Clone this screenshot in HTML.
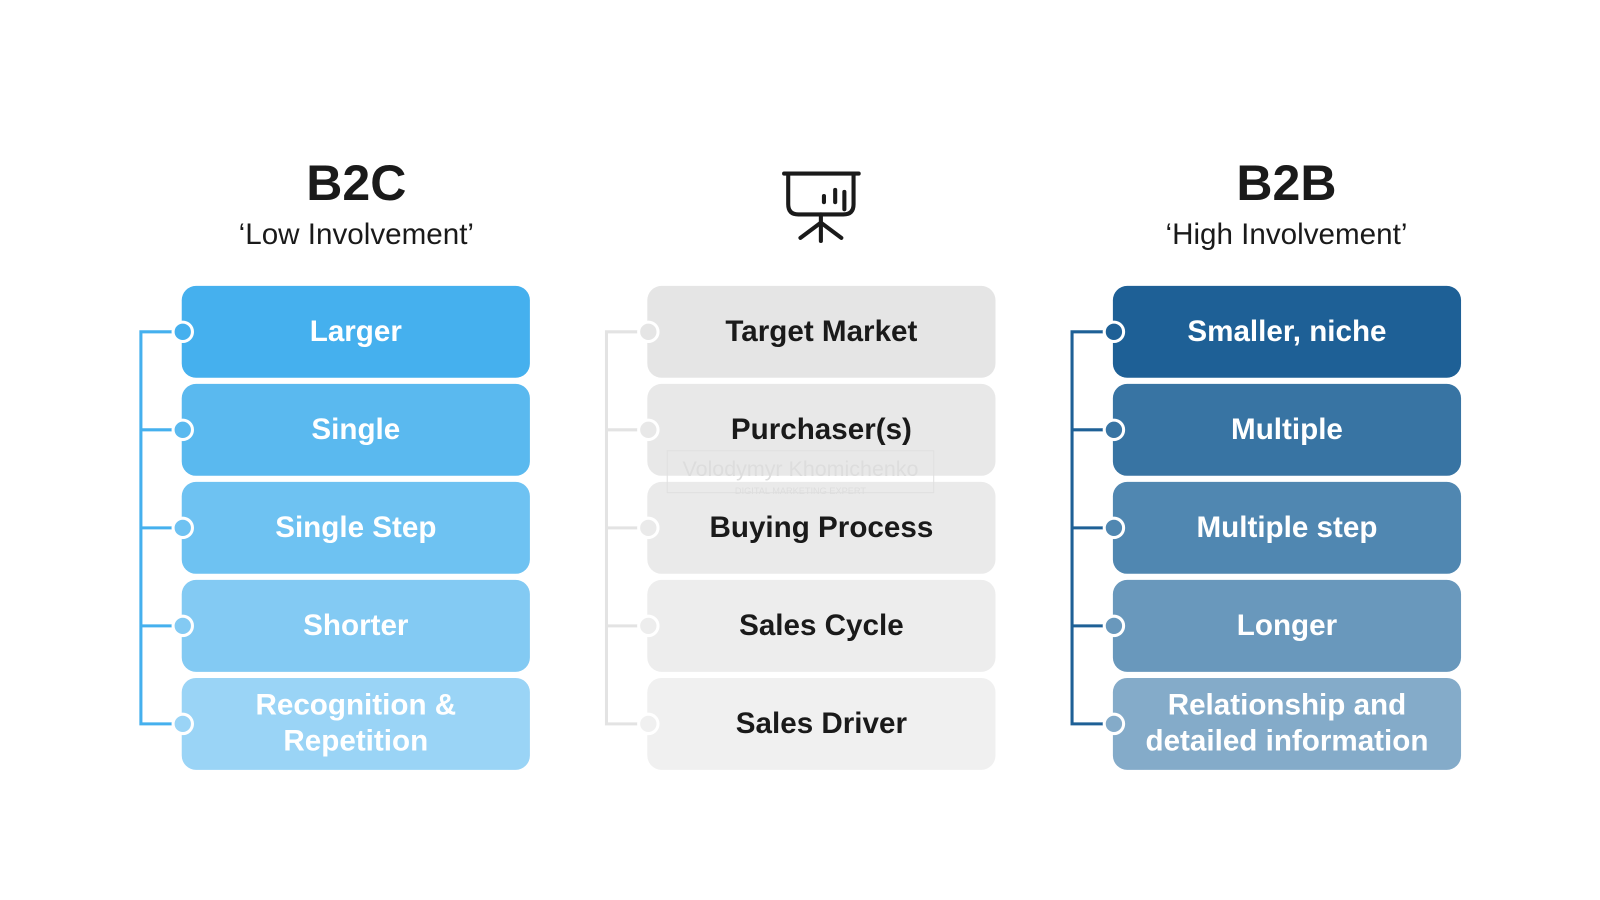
<!DOCTYPE html>
<html><head><style>
body{margin:0;width:1600px;height:900px;background:#fff;overflow:hidden}
#w{position:absolute;left:0;top:0;width:1560px;height:878px;transform:scale(1.021);transform-origin:0 0;font-family:"Liberation Sans",sans-serif}
.b{position:absolute;width:341px;height:90px;border-radius:14px;display:flex;align-items:center;justify-content:center;text-align:center;font-weight:bold;font-size:29px;line-height:35px;color:#fff}
.c{position:absolute;width:16px;height:16px;border-radius:50%;border:3px solid #fff}
.h{position:absolute;width:400px;text-align:center;color:#1a1a1a}
.t{font-size:49px;font-weight:bold;top:152px}
.s{font-size:29px;top:214px}
</style></head><body><div id="w">
<div class="h t" style="left:149px">B2C</div>
<div class="h s" style="left:149px">‘Low Involvement’</div>
<div class="h t" style="left:1060px">B2B</div>
<div class="h s" style="left:1060px">‘High Involvement’</div>
<svg style="position:absolute;left:0;top:0" width="1560" height="878">
<g fill="none" stroke="#1a1a1a" stroke-width="4" stroke-linecap="round">
<line x1="768" y1="170" x2="841" y2="170"/>
<path d="M772 170 V200 Q772 210 782 210 H826 Q836 210 836 200 V170"/>
<line x1="804" y1="210" x2="804" y2="236"/><line x1="804" y1="218" x2="784" y2="233"/><line x1="804" y1="218" x2="824" y2="233"/>
<line x1="807" y1="192" x2="807" y2="198"/><line x1="818" y1="186" x2="818" y2="198"/><line x1="827" y1="188" x2="827" y2="205"/>
</g>
<g fill="none" stroke-width="3">
<path stroke="#45b0ee" d="M170 325 H138 V709 H170 M138 421 H170 M138 517 H170 M138 613 H170"/>
<path stroke="#e3e3e3" d="M626 325 H594 V709 H626 M594 421 H626 M594 517 H626 M594 613 H626"/>
<path stroke="#1e6096" d="M1082 325 H1050 V709 H1082 M1050 421 H1082 M1050 517 H1082 M1050 613 H1082"/>
</g>
</svg>
<div class="b" style="left:178px;top:280px;background:#45b0ee">Larger</div>
<div class="b" style="left:178px;top:376px;background:#5ab9ef">Single</div>
<div class="b" style="left:178px;top:472px;background:#6ec2f2">Single Step</div>
<div class="b" style="left:178px;top:568px;background:#83caf3">Shorter</div>
<div class="b" style="left:178px;top:664px;background:#9ad4f6">Recognition &amp;<br>Repetition</div>
<div class="b" style="left:634px;top:280px;background:#e5e5e5;color:#1a1a1a">Target Market</div>
<div class="b" style="left:634px;top:376px;background:#e8e8e8;color:#1a1a1a">Purchaser(s)</div>
<div class="b" style="left:634px;top:472px;background:#eaeaea;color:#1a1a1a">Buying Process</div>
<div class="b" style="left:634px;top:568px;background:#ededed;color:#1a1a1a">Sales Cycle</div>
<div class="b" style="left:634px;top:664px;background:#f0f0f0;color:#1a1a1a">Sales Driver</div>
<div class="b" style="left:1090px;top:280px;background:#1e6096">Smaller, niche</div>
<div class="b" style="left:1090px;top:376px;background:#3874a3">Multiple</div>
<div class="b" style="left:1090px;top:472px;background:#5087b1">Multiple step</div>
<div class="b" style="left:1090px;top:568px;background:#6998bc">Longer</div>
<div class="b" style="left:1090px;top:664px;background:#84abc9">Relationship and<br>detailed information</div>
<div class="c" style="left:168px;top:314px;background:#45b0ee"></div>
<div class="c" style="left:168px;top:410px;background:#5ab9ef"></div>
<div class="c" style="left:168px;top:506px;background:#6ec2f2"></div>
<div class="c" style="left:168px;top:602px;background:#83caf3"></div>
<div class="c" style="left:168px;top:698px;background:#9ad4f6"></div>
<div class="c" style="left:624px;top:314px;background:#e5e5e5"></div>
<div class="c" style="left:624px;top:410px;background:#e8e8e8"></div>
<div class="c" style="left:624px;top:506px;background:#eaeaea"></div>
<div class="c" style="left:624px;top:602px;background:#ededed"></div>
<div class="c" style="left:624px;top:698px;background:#f0f0f0"></div>
<div class="c" style="left:1080px;top:314px;background:#1e6096"></div>
<div class="c" style="left:1080px;top:410px;background:#3874a3"></div>
<div class="c" style="left:1080px;top:506px;background:#5087b1"></div>
<div class="c" style="left:1080px;top:602px;background:#6998bc"></div>
<div class="c" style="left:1080px;top:698px;background:#84abc9"></div>
<div style="position:absolute;left:653px;top:441px;width:260px;height:40px;border:1px solid #e0e0e0;color:#ddd;text-align:center;font-size:21px;line-height:36px">Volodymyr Khomichenko</div>
<div style="position:absolute;left:653px;top:476px;width:262px;text-align:center;color:#ddd;font-size:9px">DIGITAL MARKETING EXPERT</div>
</div></body></html>
